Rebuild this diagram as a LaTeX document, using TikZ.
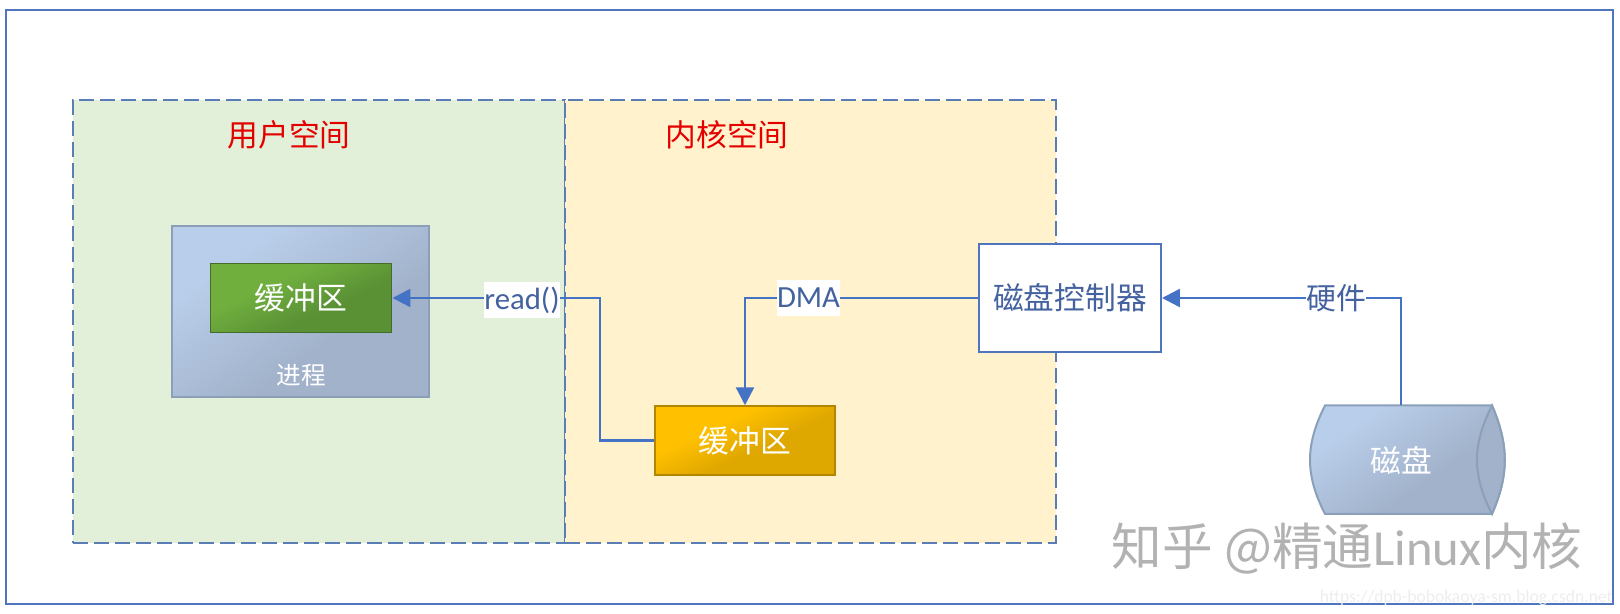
\documentclass[tikz,border=0pt]{standalone}
\usepackage{fontspec}
\setmainfont{Noto Sans CJK SC}
\newfontfamily\latinfont{Carlito}
\usetikzlibrary{arrows.meta}
\definecolor{framec}{HTML}{4F75BD}
\definecolor{dashc}{HTML}{5B7DB5}
\definecolor{linkc}{HTML}{4472C4}
\definecolor{textc}{HTML}{44629F}
\definecolor{steelc}{HTML}{8C9FB8}
\definecolor{blueA}{HTML}{B9CEEA}
\definecolor{blueB}{HTML}{A2B2CB}
\definecolor{greenA}{HTML}{70AF3E}
\definecolor{greenB}{HTML}{5A9135}
\definecolor{goldA}{HTML}{FFC000}
\definecolor{goldB}{HTML}{DFA800}
\definecolor{userc}{HTML}{E2EFD9}
\definecolor{kernelc}{HTML}{FFF2CC}
\pgfdeclarehorizontalshading{blueshade}{100bp}{color(0bp)=(blueA); color(30bp)=(blueA); color(60bp)=(blueB); color(100bp)=(blueB)}
\pgfdeclarehorizontalshading{greenshade}{100bp}{color(0bp)=(greenA); color(38bp)=(greenA); color(60bp)=(greenB); color(100bp)=(greenB)}
\pgfdeclarehorizontalshading{goldshade}{100bp}{color(0bp)=(goldA); color(38bp)=(goldA); color(56bp)=(goldB); color(100bp)=(goldB)}
\tikzset{
  zone/.style={draw=dashc,line width=.04cm,dash pattern=on .3cm off .12cm,inner sep=0pt},
  title/.style={text=red!90!black,font=\fontsize{17.5}{20}\selectfont},
  filled/.style={text=white,inner sep=0pt,font=\fontsize{17.5}{20}\selectfont},
  link/.style={draw=linkc,line width=.05cm},
  tip/.style={-{Triangle[length=.36cm,width=.36cm]}},
  tag/.style={fill=white,text=textc,inner sep=0pt,minimum height=.72cm,font=\fontsize{17}{20}\selectfont},
}
\begin{document}
\begin{tikzpicture}[x=.02cm,y=-.02cm]
          \useasboundingbox (0,0) rectangle (1620,614);
          \node[draw=framec,line width=.04cm,minimum width=32.14cm,minimum height=11.88cm,inner sep=0pt] (outer) at (809.5,307) {};
          \node[zone,fill=userc,minimum width=9.85cm,minimum height=8.86cm] (user) at (319,321.5) {};
          \node[zone,fill=kernelc,minimum width=9.82cm,minimum height=8.86cm] (kernel) at (810.5,321.5) {};
          \node[title] (usertitle) at (289,135) {用户空间};
          \node[title] (kerneltitle) at (727,135) {内核空间};
          \node[draw=steelc,line width=.03cm,shading=blueshade,shading angle=-55,minimum width=5.14cm,minimum height=3.43cm,inner sep=0pt] (proc) at (300.5,311.5) {};
          \node[draw=greenB!75!black,line width=.03cm,shading=greenshade,shading angle=-65,filled,minimum width=3.63cm,minimum height=1.39cm] (ubuf) at (301,298) {缓冲区};
          \node[text=white,font=\fontsize{14}{17}\selectfont] (proclabel) at (301,375) {进程};
          \node[draw=goldB!80!black,line width=.03cm,shading=goldshade,shading angle=-65,filled,minimum width=3.61cm,minimum height=1.38cm] (kbuf) at (745,440.5) {缓冲区};
          \node[draw=framec,line width=.04cm,fill=white,text=textc,inner sep=0pt,minimum width=3.64cm,minimum height=2.16cm,font=\fontsize{17.5}{20}\selectfont] (ctrl) at (1070,298) {磁盘控制器};
          \draw[draw=steelc,line width=.04cm,shading=blueshade,shading angle=-55] (1325,405.5) -- (1492,405.5) .. controls (1509,445) and (1509,475) .. (1492,514) -- (1325,514) .. controls (1305,475) and (1305,445) .. (1325,405.5) -- cycle;
          \draw[draw=steelc,line width=.04cm,fill=blueB] (1492,405.5) .. controls (1509,445) and (1509,475) .. (1492,514) .. controls (1472,475) and (1472,445) .. (1492,405.5) -- cycle;
          \node[filled,minimum width=3.38cm,minimum height=2.17cm] (disk) at (1401,460) {磁盘};
          \node[tag,minimum width=1.48cm,font=\latinfont\fontsize{17.5}{22}\selectfont] (read) at (522,300) {read()};
          \node[tag,minimum width=1.26cm,font=\latinfont\fontsize{17.5}{22}\selectfont] (dma) at (808.5,298) {DMA};
          \node[tag,minimum width=1.2cm] (hw) at (1336,298) {硬件};
          \node[text=gray!60,font=\fontsize{28.8}{32}\selectfont,inner sep=0pt] (mark) at (1347,549) {知乎 @精通{\latinfont Linux}内核};
          \node[text=gray!14,font=\latinfont\fontsize{10}{12}\selectfont,inner sep=0pt,anchor=east] (url) at (1613,598) {https://dpb-bobokaoya-sm.blog.csdn.net};
          \draw[link,tip] (read.west|-ubuf) -- (ubuf.east);
          \draw[link] (kbuf.west) -| (600,298) -- (read.east|-ubuf);
          \draw[link] (ctrl.west) -- (dma.east|-ctrl);
          \draw[link,tip] (dma.west|-ctrl) -| (kbuf.north);
          \draw[link] (disk.north) |- (hw.east);
          \draw[link,tip] (hw.west) -- (ctrl.east);
        \end{tikzpicture}
\end{document}
